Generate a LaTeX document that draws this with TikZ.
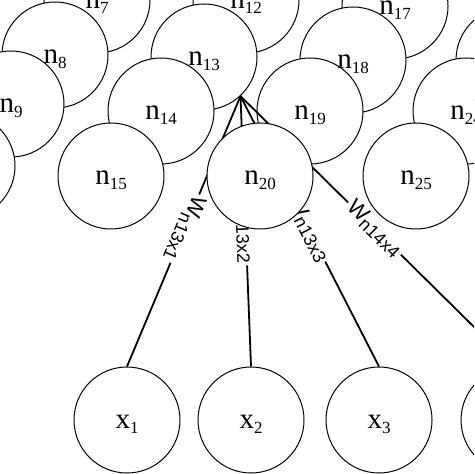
\documentclass[tikz,border=0pt]{standalone}
\usepackage{fontspec}
\setmainfont{Liberation Serif}
\newfontfamily\lsans{Liberation Sans}
\newcommand\nlab[2]{{\fontsize{14.5}{16}\selectfont #1\raisebox{-2.5pt}{\fontsize{8.5}{9}\selectfont #2}}}
\newcommand\wlab[1]{{\lsans\fontsize{11}{12}\selectfont W\raisebox{-2pt}{\fontsize{9}{10}\selectfont #1}}}
\begin{document}
\begin{tikzpicture}[x=0.5pt,y=-0.5pt,
  circ/.style={circle,draw,fill=white,minimum size=53pt,inner sep=0pt,line width=0.5pt},
  lab/.style={inner sep=0pt,yshift=-2pt},
  conn/.style={line width=0.9pt},
  wlabel/.style={sloped,allow upside down,fill=white,inner sep=1pt,pos=0.49}]
\useasboundingbox (0,0) rectangle (474,474);
\clip (0,0) rectangle (474,474);
% row 0
\node[circ] (n7) at (97,0) {};
\node[circ] (n12) at (246,0) {};
\node[circ] (n17) at (395,6) {};
% row 1
\node[circ] (n8) at (55,55) {};
\node[circ] (n13) at (204,57) {};
\node[circ] (n18) at (353,60) {};
\node[circ] (n23) at (509,60) {};
% row 2
\node[circ] (n9) at (11,104) {};
\node[circ] (n14) at (161,111) {};
\node[circ] (n19) at (310,111) {};
\node[circ] (n24) at (466,111) {};
% inputs
\node[circ] (x1) at (127,420) {};
\node[circ] (x2) at (251,420) {};
\node[circ] (x3) at (379,420) {};
\node[circ] (x4) at (514,420) {};
% connectors
\coordinate (o) at (n13.-47);
\draw[conn] (o) -- node[wlabel] {\wlab{n13x1}} (x1.north);
\draw[conn] (o) -- node[wlabel] {\wlab{n13x2}} (x2.north);
\draw[conn] (o) -- node[wlabel] {\wlab{n13x3}} (x3.north);
\draw[conn] (o) -- node[wlabel] {\wlab{n14x4}} (x4.north);
% row 3
\node[circ] (n10) at (-38,166) {};
\node[circ] (n15) at (111,176) {};
\node[circ] (n20) at (260,176) {};
\node[circ] (n25) at (416,176) {};
% labels
\node[lab] (l7) at (n7) {\nlab{n}{7}};
\node[lab] (l12) at (n12) {\nlab{n}{12}};
\node[lab] (l17) at (n17) {\nlab{n}{17}};
\node[lab] (l8) at (n8) {\nlab{n}{8}};
\node[lab] (l13) at (n13) {\nlab{n}{13}};
\node[lab] (l18) at (n18) {\nlab{n}{18}};
\node[lab] (l23) at (n23) {\nlab{n}{23}};
\node[lab] (l9) at (n9) {\nlab{n}{9}};
\node[lab] (l14) at (n14) {\nlab{n}{14}};
\node[lab] (l19) at (n19) {\nlab{n}{19}};
\node[lab] (l24) at (n24) {\nlab{n}{24}};
\node[lab] (l10) at (n10) {\nlab{n}{10}};
\node[lab] (l15) at (n15) {\nlab{n}{15}};
\node[lab] (l20) at (n20) {\nlab{n}{20}};
\node[lab] (l25) at (n25) {\nlab{n}{25}};
\node[lab] (lx1) at (x1) {\nlab{x}{1}};
\node[lab] (lx2) at (x2) {\nlab{x}{2}};
\node[lab] (lx3) at (x3) {\nlab{x}{3}};
\node[lab] (lx4) at (x4) {\nlab{x}{4}};
\end{tikzpicture}
\end{document}
